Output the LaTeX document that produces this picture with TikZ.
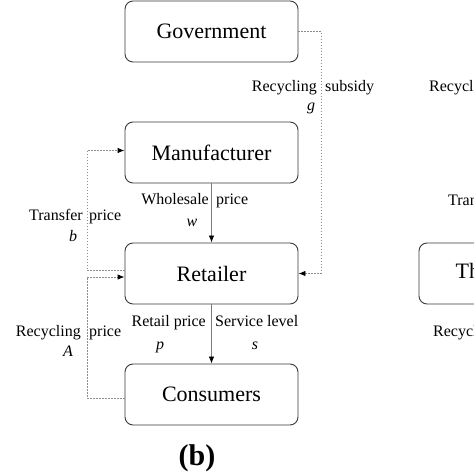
\documentclass[tikz,border=0pt]{standalone}
\usepackage{fontspec}
\setmainfont{Liberation Serif}
\usetikzlibrary{arrows.meta}
\definecolor{box_gray}{HTML}{3A3A3A}
\definecolor{line_gray}{HTML}{7A7A7A}
\definecolor{dot_gray}{HTML}{8C8C8C}

\begin{document}
\begin{tikzpicture}[
    x=1pt, y=1pt,
    agent/.style={draw=box_gray, line width=0.9pt, rounded corners=8pt,
        minimum width=173pt, minimum height=61pt, inner sep=0pt,
        font=\fontsize{22}{26}\selectfont},
    lbl/.style={inner sep=0pt, font=\fontsize{16}{19}\selectfont},
    flow/.style={draw=line_gray, line width=0.8pt,
        -{Latex[length=7pt, width=5.5pt, color=black]}},
    dotflow/.style={draw=dot_gray, line width=0.9pt,
        dash pattern=on 1.5pt off 1.5pt,
        -{Latex[length=7pt, width=5.5pt, color=black]}}
]
\useasboundingbox (0, 0) rectangle (474, 474);
\clip (0, 0) rectangle (474, 474);

% ---------------------------------------------------------------
%  Akteure der Kette (b) und Rand der Nachbarkette
% ---------------------------------------------------------------
\node[agent] (gov) at (211.5, 442.5) {Government};
\node[agent] (man) at (211.5, 321.5) {Manufacturer};
\node[agent] (ret) at (211.5, 200.5) {Retailer};
\node[agent] (con) at (211.5, 79.5) {Consumers};
\node[agent] (thp) at (505.5, 200.5) {Third party};

% Produktfluss
\draw[flow] (man) -- (ret);
\draw[flow] (ret) -- (con);

% Subvention
\coordinate (subsidy) at (321, 300);
\draw[dotflow] (gov.east) -| (subsidy) |- (ret.east);

% Ruecknahme
\coordinate (transfer) at (87, 260);
\draw[dotflow] ([yshift=3pt]ret.west) -| (transfer) |- ([yshift=2pt]man.west);
\coordinate (recycle) at (87, 140);
\draw[dotflow] ([yshift=-3.5pt]con.west) -| (recycle) |- ([yshift=-3.5pt]ret.west);

% Beschriftungen
\node[lbl, anchor=base east] (lsub1) at (317, 382) {Recycling};
\node[lbl, anchor=base west] (lsub2) at (325, 382) {subsidy};
\node[lbl, anchor=base] (lg) at (311, 363) {\textit{g}};

\node[lbl, anchor=base east] (lwh1) at (209, 269) {Wholesale};
\node[lbl, anchor=base west] (lwh2) at (216, 269) {price};
\node[lbl, anchor=base] (lw) at (192, 247) {\textit{w}};

\node[lbl, anchor=base east] (ltr1) at (83, 253) {Transfer};
\node[lbl, anchor=base west] (ltr2) at (89, 253) {price};
\node[lbl, anchor=base] (lb) at (73, 232) {\textit{b}};

\node[lbl, anchor=base east] (lrc1) at (81, 137) {Recycling};
\node[lbl, anchor=base west] (lrc2) at (89, 137) {price};
\node[lbl, anchor=base] (lA) at (68, 117) {\textit{A}};

\node[lbl, anchor=base east] (lrt) at (206, 147) {Retail price};
\node[lbl, anchor=base west] (lsv) at (215, 147) {Service level};
\node[lbl, anchor=base] (lp) at (160, 124) {\textit{p}};
\node[lbl, anchor=base] (ls) at (255, 124) {\textit{s}};

% Nachbarkette (angeschnitten)
\node[lbl, anchor=base west] (rsub) at (429, 382) {Recycling};
\node[lbl, anchor=base west] (rtr) at (448, 268) {Transfer};
\node[lbl, anchor=base west] (rrc) at (433, 137) {Recycling};

\node[anchor=base, inner sep=0pt, font=\fontsize{30}{34}\selectfont\bfseries] (cap) at (197, 9) {(b)};

\end{tikzpicture}
\end{document}
